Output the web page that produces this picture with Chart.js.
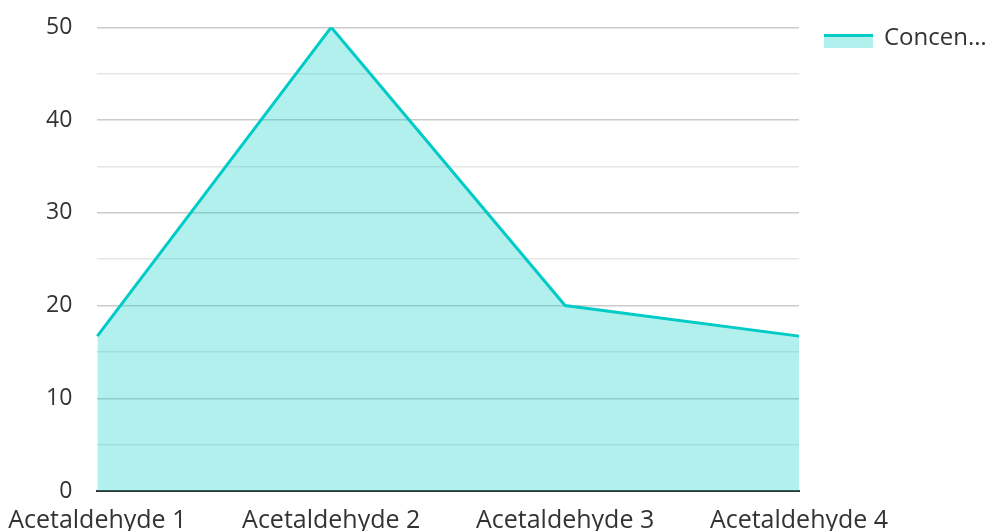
<!DOCTYPE html>
<html>
<head>
<meta charset="utf-8">
<script src="https://cdn.jsdelivr.net/npm/chart.js@4"></script>
<style>
  html, body { margin: 0; padding: 0; background: #fff; }
  #wrap { width: 989px; height: 531px; }
</style>
</head>
<body>
<div id="wrap"><canvas id="chart"></canvas></div>
<script>
const categories = ["Acetaldehyde 1", "Acetaldehyde 2", "Acetaldehyde 3", "Acetaldehyde 4"];
const seriesName = "Concentration";
const seriesValues = [16.7, 50, 20, 16.7];

const lineColor = "#00cbc6";
const fillColor = "rgba(0, 204, 200, 0.3)";
const textColor = "#333";
const fontFamily = "'Open Sans', 'Noto Sans', sans-serif";

// legend drawn by hand at the right, label shortened like the original
const sideLegend = {
    id: "sideLegend",
    afterDraw(chart) {
        const ctx = chart.ctx;
        const x = 824, y = 34;
        ctx.save();
        ctx.fillStyle = fillColor;
        ctx.fillRect(x, y, 49, 14);
        ctx.fillStyle = lineColor;
        ctx.fillRect(x, y, 49, 3);
        ctx.font = "24px " + fontFamily;
        ctx.fillStyle = textColor;
        ctx.textBaseline = "middle";
        ctx.fillText(seriesName.slice(0, 6) + "…", x + 60, y + 4);
        ctx.restore();
    }
};

new Chart(document.getElementById("chart"), {
    type: "line",
    data: {
        labels: categories,
        datasets: [{
            label: seriesName,
            data: seriesValues,
            borderColor: lineColor,
            backgroundColor: fillColor,
            borderWidth: 3,
            fill: "origin",
            tension: 0,
            pointRadius: 0
        }]
    },
    options: {
        responsive: true,
        maintainAspectRatio: false,
        animation: false,
        layout: { padding: { top: 17, right: 190, left: 21, bottom: -20 } },
        plugins: { legend: { display: false }, tooltip: { enabled: false } },
        scales: {
            x: {
                offset: false,
                grid: { display: false, drawTicks: false },
                border: { color: "#333", width: 2 },
                ticks: { color: textColor, font: { family: fontFamily, size: 25 }, padding: 15, maxRotation: 0 },
                afterFit: s => { s.paddingLeft = 0; s.paddingRight = 0; }
            },
            y: {
                min: 0,
                max: 50,
                border: { display: false },
                grid: {
                    drawTicks: false,
                    color: c => c.tick.value === 0 ? "rgba(0,0,0,0)" : (c.tick.value % 10 === 0 ? "#cccccc" : "#e6e6e6"),
                    lineWidth: 1.5
                },
                ticks: {
                    stepSize: 5,
                    padding: 25,
                    color: textColor,
                    font: { family: fontFamily, size: 23, lineHeight: 0.2 },
                    callback: v => v % 10 === 0 ? v : ""
                }
            }
        }
    },
    plugins: [sideLegend]
});
</script>
</body>
</html>
